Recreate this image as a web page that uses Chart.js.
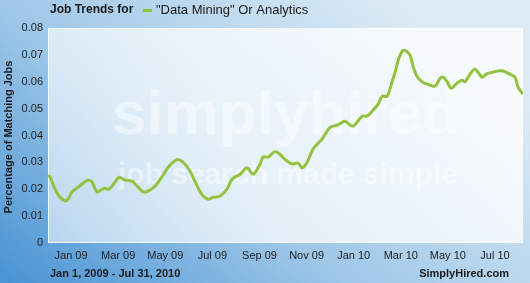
<!DOCTYPE html>
<html>
<head>
<meta charset="utf-8">
<script src="https://cdn.jsdelivr.net/npm/chart.js@4.4.1/dist/chart.umd.min.js"></script>
<style>
  html, body { margin: 0; padding: 0; background: #9cc6e8; }
  #wrap { width: 530px; height: 283px; position: relative; }
</style>
</head>
<body>
<div id="wrap"><canvas id="grafico" width="530" height="283"></canvas></div>
<script>
// meses desde 1 ene 2009
const meses = [-0.98, -0.89, -0.68, -0.47, -0.25, -0.13, 0.04, 0.30, 0.72, 0.89, 1.10, 1.32, 1.44, 1.61, 1.87,
  2.04, 2.29, 2.59, 2.80, 3.06, 3.27, 3.57, 3.91, 4.12, 4.50, 4.76, 5.05, 5.27, 5.56, 5.82, 6.03, 6.33, 6.62,
  6.84, 7.18, 7.47, 7.73, 8.03, 8.15, 8.37, 8.66, 8.87, 9.09, 9.38, 9.64, 9.81, 10.02, 10.28, 10.66, 11.00,
  11.34, 11.63, 11.97, 12.36, 12.57, 12.82, 13.04, 13.21, 13.42, 13.63, 13.76, 13.89, 14.06, 14.18, 14.39,
  14.52, 14.69, 14.90, 15.16, 15.46, 15.67, 15.80, 15.97, 16.14, 16.39, 16.60, 16.73, 16.94, 17.16, 17.45,
  17.66, 17.92, 18.13, 18.34, 18.64, 18.85, 18.98, 19.19];
const porcentaje = [0.0252, 0.0245, 0.0200, 0.0170, 0.0156, 0.0163, 0.0190, 0.0208, 0.0234, 0.0227, 0.0190,
  0.0200, 0.0204, 0.0200, 0.0227, 0.0245, 0.0234, 0.0230, 0.0212, 0.0190, 0.0193, 0.0212, 0.0253, 0.0282,
  0.0310, 0.0300, 0.0268, 0.0227, 0.0180, 0.0163, 0.0170, 0.0175, 0.0200, 0.0238, 0.0256, 0.0280, 0.0256,
  0.0294, 0.0320, 0.0320, 0.0340, 0.0330, 0.0310, 0.0294, 0.0297, 0.0280, 0.0300, 0.0350, 0.0387, 0.0430,
  0.0440, 0.0453, 0.0435, 0.0472, 0.0472, 0.0494, 0.0517, 0.0546, 0.0546, 0.0600, 0.0636, 0.0680, 0.0714,
  0.0717, 0.0700, 0.0658, 0.0620, 0.0600, 0.0590, 0.0584, 0.0613, 0.0617, 0.0600, 0.0576, 0.0595, 0.0606,
  0.0600, 0.0628, 0.0647, 0.0617, 0.0630, 0.0636, 0.0640, 0.0640, 0.0628, 0.0617, 0.0580, 0.0554];
const etiquetasX = ["Jan 09", "Mar 09", "May 09", "Jul 09", "Sep 09", "Nov 09", "Jan 10", "Mar 10", "May 10", "Jul 10"];
const posicionesX = [0, 2, 4, 6, 8, 10, 12, 14, 16, 18];
const ticksY = [0, 0.01, 0.02, 0.03, 0.04, 0.05, 0.06, 0.07, 0.08];

const VERDE = "#93c23f";
const FUENTE = "'Liberation Sans', Arial, sans-serif";

const fondo = {
  id: "fondo",
  beforeDraw(chart) {
    const { ctx, width, height, chartArea: a } = chart;
    ctx.save();
    const g = ctx.createLinearGradient(0, height, width * 0.55, -80);
    g.addColorStop(0, "#4893d3");
    g.addColorStop(0.45, "#9cc6e8");
    g.addColorStop(1, "#dcebf6");
    ctx.fillStyle = g;
    ctx.fillRect(0, 0, width, height);
    // area del grafico
    const p = ctx.createLinearGradient(a.left, a.bottom, a.right, a.top);
    p.addColorStop(0, "rgba(255,255,255,0.55)");
    p.addColorStop(0.4, "rgba(255,255,255,0.72)");
    p.addColorStop(1, "rgba(255,255,255,0.78)");
    ctx.fillStyle = p;
    ctx.fillRect(a.left, a.top, a.right - a.left, a.bottom - a.top);
    ctx.strokeStyle = "rgba(255,255,255,0.8)";
    ctx.lineWidth = 1;
    ctx.strokeRect(a.left + 0.5, a.top + 0.5, a.right - a.left - 1, a.bottom - a.top - 1);
    // marca de agua
    ctx.fillStyle = "rgba(255,255,255,0.45)";
    ctx.textAlign = "center";
    ctx.textBaseline = "alphabetic";
    ctx.font = "bold 62px " + FUENTE;
    ctx.fillText("simplyhired", 286, 134);
    ctx.font = "bold 30px " + FUENTE;
    ctx.fillText("job search made simple", 288, 184);
    ctx.restore();
  },
  afterDraw(chart) {
    const { ctx } = chart;
    ctx.save();
    ctx.fillStyle = "#1a1a1a";
    ctx.textBaseline = "middle";
    ctx.textAlign = "left";
    ctx.font = "bold 12px " + FUENTE;
    ctx.fillText("Job Trends for", 50, 10);
    ctx.fillStyle = VERDE;
    ctx.fillRect(143, 9, 9, 3);
    ctx.fillStyle = "#1a1a1a";
    ctx.font = "13px " + FUENTE;
    ctx.fillText("\"Data Mining\" Or Analytics", 156, 10);
    ctx.font = "bold 11px " + FUENTE;
    ctx.fillText("Jan 1, 2009 - Jul 31, 2010", 50, 274);
    ctx.textAlign = "right";
    ctx.fillText("SimplyHired.com", 509, 274);
    ctx.translate(9, 137);
    ctx.rotate(-Math.PI / 2);
    ctx.textAlign = "center";
    ctx.fillText("Percentage of Matching Jobs", 0, 0);
    ctx.restore();
  }
};

function init() {
  const puntos = meses.map((m, i) => ({ x: m, y: porcentaje[i] }));
  new Chart(document.getElementById("grafico"), {
    type: "line",
    data: {
      datasets: [{
        label: "\"Data Mining\" Or Analytics",
        data: puntos,
        borderColor: VERDE,
        borderWidth: 3,
        pointRadius: 0,
        tension: 0.3,
        fill: false
      }]
    },
    options: {
      responsive: false,
      animation: false,
      layout: { padding: { top: 28, right: 7, left: 0, bottom: 0 } },
      plugins: { legend: { display: false }, tooltip: { enabled: false } },
      scales: {
        x: {
          type: "linear",
          min: meses[0],
          max: meses[meses.length - 1],
          afterFit(scale) { scale.height = 40; },
          afterBuildTicks(scale) { scale.ticks = posicionesX.map((v) => ({ value: v })); },
          grid: { display: false, drawTicks: false },
          border: { display: false },
          ticks: {
            autoSkip: false,
            maxRotation: 0,
            padding: 6,
            color: "#222",
            font: { family: FUENTE, size: 11 },
            callback: (v) => etiquetasX[posicionesX.indexOf(v)] || ""
          }
        },
        y: {
          min: 0,
          max: 0.08,
          afterFit(scale) { scale.width = 48; },
          afterBuildTicks(scale) { scale.ticks = ticksY.map((v) => ({ value: v })); },
          grid: { display: false, drawTicks: false },
          border: { display: false },
          ticks: {
            padding: 5,
            color: "#222",
            font: { family: FUENTE, size: 11 },
            callback: (v) => (v === 0 ? "0" : v.toFixed(2))
          }
        }
      }
    },
    plugins: [fondo]
  });
}

if (document.readyState === "loading") {
  document.addEventListener("DOMContentLoaded", init);
} else {
  init();
}
</script>
</body>
</html>
